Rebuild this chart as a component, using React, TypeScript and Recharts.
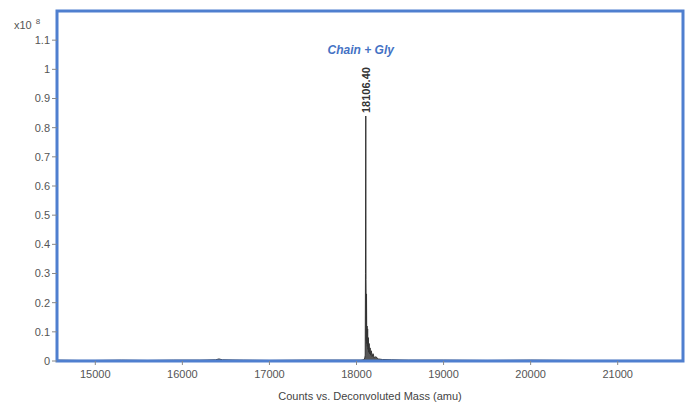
import { ComposedChart, Area, XAxis, YAxis, ReferenceArea, ReferenceDot } from "recharts";

// deconvoluted mass (amu) and counts (x10^8)
const masses = [
  14560, 14800, 15000, 15300, 15600, 15900, 16200, 16380, 16420, 16460, 16700, 17000, 17400, 17800,
  18050, 18080, 18095, 18100, 18103, 18106.4, 18109, 18112, 18115, 18118, 18121, 18124, 18128, 18132,
  18136, 18140, 18145, 18150, 18156, 18162, 18170, 18180, 18190, 18205, 18220, 18250, 18300, 18400,
  18600, 19000, 19500, 20000, 20500, 21000, 21400, 21750,
];
const counts = [
  0.003, 0.002, 0.002, 0.003, 0.002, 0.003, 0.003, 0.004, 0.007, 0.004, 0.003, 0.002, 0.003, 0.003,
  0.003, 0.004, 0.01, 0.02, 0.3, 0.84, 0.28, 0.07, 0.23, 0.06, 0.12, 0.05, 0.11, 0.04,
  0.08, 0.03, 0.06, 0.025, 0.045, 0.02, 0.035, 0.015, 0.025, 0.01, 0.015, 0.007, 0.005, 0.004,
  0.003, 0.003, 0.002, 0.003, 0.002, 0.002, 0.002, 0.002,
];
const xTicks = [15000, 16000, 17000, 18000, 19000, 20000, 21000];
const yTicks = [0, 0.1, 0.2, 0.3, 0.4, 0.5, 0.6, 0.7, 0.8, 0.9, 1, 1.1];
const yTickText = ["0", "0.1", "0.2", "0.3", "0.4", "0.5", "0.6", "0.7", "0.8", "0.9", "1", "1.1"];
const peakMass = 18106.4;
const peakCount = 0.84;
const peakLabel = "18106.40";
const peakName = "Chain + Gly";

const data = masses.map((m, i) => ({ mass: m, count: counts[i] }));

const BLUE = "#4f7fcf";
const FONT = "'Liberation Sans', Arial, sans-serif";

function PeakLabel(props: any) {
  const vb = props.viewBox || {};
  const cx = (vb.x ?? 0) + (vb.width ?? 0) / 2;
  const cy = (vb.y ?? 0) + (vb.height ?? 0) / 2;
  const ty = cy - 3;
  return (
    <g>
      <text
        x={cx + 4}
        y={ty}
        transform={`rotate(-90 ${cx + 4} ${ty})`}
        fontSize={11}
        fontWeight="bold"
        fill="#333"
        fontFamily={FONT}
      >
        {peakLabel}
      </text>
      <text
        x={cx - 5}
        y={cy - 62}
        textAnchor="middle"
        fontSize={12}
        fontWeight="bold"
        fontStyle="italic"
        fill="#4472c4"
        fontFamily={FONT}
      >
        {peakName}
      </text>
    </g>
  );
}

export default function App() {
  return (
    <div style={{ position: "absolute", left: 0, top: 0, width: 699, height: 412, background: "#fff", fontFamily: FONT }}>
      <div style={{ position: "absolute", left: 14, top: 17, fontSize: 11, color: "#555" }}>
        x10<sup style={{ fontSize: 8, marginLeft: 4 }}>8</sup>
      </div>
      <ComposedChart width={699} height={412} data={data} margin={{ top: 11, right: 16, left: 0, bottom: 0 }}>
        <XAxis
          dataKey="mass"
          type="number"
          domain={[14560, 21750]}
          ticks={xTicks}
          allowDataOverflow
          height={51}
          tickSize={4}
          tickMargin={5}
          axisLine={false}
          tickLine={{ stroke: "#888" }}
          tick={{ fontSize: 11, fill: "#555", fontFamily: FONT }}
          label={{ value: "Counts vs. Deconvoluted Mass (amu)", position: "insideBottom", offset: 12, fontSize: 11, fill: "#444", fontFamily: FONT }}
        />
        <YAxis
          type="number"
          domain={[0, 1.2]}
          ticks={yTicks}
          width={57}
          tickSize={5}
          tickMargin={2}
          axisLine={false}
          tickLine={{ stroke: "#888" }}
          tick={{ fontSize: 11, fill: "#555", fontFamily: FONT }}
          tickFormatter={(v: number) => yTickText[yTicks.indexOf(v)] ?? String(v)}
        />
        <Area
          type="linear"
          dataKey="count"
          stroke="#333"
          strokeWidth={1}
          fill="#3a3a3a"
          fillOpacity={0.85}
          isAnimationActive={false}
          dot={false}
          activeDot={false}
        />
        <ReferenceArea x1={14560} x2={21750} y1={0} y2={1.2} fill="none" stroke={BLUE} strokeWidth={3} ifOverflow="visible" />
        <ReferenceDot x={peakMass} y={peakCount} r={0} fill="none" stroke="none" label={<PeakLabel />} />
      </ComposedChart>
    </div>
  );
}
